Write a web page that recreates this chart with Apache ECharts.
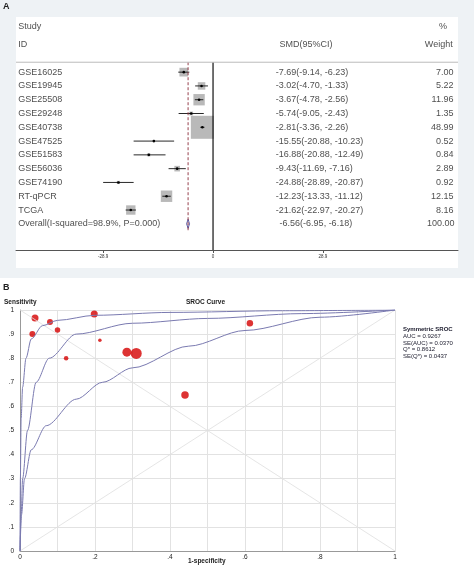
<!DOCTYPE html>
<html>
<head>
<meta charset="utf-8">
<script src="https://cdn.jsdelivr.net/npm/echarts@6/dist/echarts.min.js"></script>
<style>html,body{margin:0;padding:0;background:#fff}#chart{width:474px;height:565px}</style>
</head>
<body>
<div id="chart"></div>
<script>
// ---- panel A: forest plot data
var studies = ['GSE16025','GSE19945','GSE25508','GSE29248','GSE40738','GSE47525','GSE51583','GSE56036','GSE74190','RT-qPCR','TCGA'];
var smd = [-7.69,-3.02,-3.67,-5.74,-2.81,-15.55,-16.88,-9.43,-24.88,-12.23,-21.62];
var ciLow = [-9.14,-4.70,-4.78,-9.05,-3.36,-20.88,-20.88,-11.69,-28.89,-13.33,-22.97];
var ciHigh = [-6.23,-1.33,-2.56,-2.43,-2.26,-10.23,-12.49,-7.16,-20.87,-11.12,-20.27];
var weights = [7.00,5.22,11.96,1.35,48.99,0.52,0.84,2.89,0.92,12.15,8.16];
var overall = {est:-6.56, low:-6.95, high:-6.18, label:'Overall(I-squared=98.9%, P=0.000)'};
var forestTicks = [-28.9, 0, 28.9];

// ---- panel B: SROC data
var srocPoints = [ // [1-spec, sens, symbol size]
  [0.040,0.967,7],[0.033,0.900,6],[0.080,0.950,6],[0.100,0.917,5.5],[0.123,0.800,4.5],
  [0.198,0.983,7],[0.213,0.875,3.5],[0.285,0.825,9],[0.310,0.820,11],[0.440,0.647,7.5],[0.613,0.945,6.5]
];
var curveInner = [[0,0],[0.001,0.3],[0.003,0.55],[0.007,0.68],[0.016,0.80],[0.03,0.88],[0.06,0.935],[0.1,0.957],[0.2,0.978],[0.4,0.99],[0.7,0.997],[1,1]];
var curveMid = [[0,0],[0.003,0.15],[0.007,0.3],[0.02,0.5],[0.043,0.7],[0.078,0.8],[0.15,0.9],[0.3,0.945],[0.5,0.965],[0.75,0.985],[1,1]];
var curveOuter = [[0,0],[0.004,0.15],[0.012,0.3],[0.03,0.42],[0.07,0.52],[0.15,0.63],[0.22,0.7],[0.3,0.76],[0.45,0.85],[0.6,0.915],[0.8,0.97],[1,1]];
var srocStats = ['AUC = 0.9267','SE(AUC) = 0.0370','Q* = 0.8612','SE(Q*) = 0.0437'];

var font = 'Liberation Sans, Arial, sans-serif';
var rows = studies.map(function (s, i) { return i; });
var overallRow = studies.length;

function txtSeries(data, pos, size) {
  return {
    type: 'scatter', xAxisIndex: 0, yAxisIndex: 0, symbolSize: 0, silent: true, data: data,
    label: {show: true, position: pos, distance: 0, fontSize: size || 9, fontFamily: font, color: '#222',
      formatter: function (p) { return p.data[2]; }}
  };
}

var nameData = studies.map(function (s, i) { return [-51.2, i, s]; });
nameData.push([-51.2, overallRow, overall.label]);
nameData.push([-51.2, -3.3, 'Study'], [-51.2, -2.0, 'ID']);
var smdData = rows.map(function (i) {
  return [16.5, i, smd[i].toFixed(2) + '(' + ciLow[i].toFixed(2) + ', ' + ciHigh[i].toFixed(2) + ')'];
});
smdData.push([17.5, overallRow, overall.est.toFixed(2) + '(' + overall.low.toFixed(2) + ', ' + overall.high.toFixed(2) + ')']);
smdData.push([17.5, -2.0, 'SMD(95%CI)']);
var wData = weights.map(function (v, i) { return [63.2, i, v.toFixed(2)]; });
wData.push([63.5, overallRow, '100.00'], [63.0, -2.0, 'Weight'], [61.5, -3.3, '%']);

function curve(data) {
  return {type: 'line', xAxisIndex: 1, yAxisIndex: 1, symbol: 'none', smooth: 0.3, smoothMonotone: 'x', silent: true,
    data: data, lineStyle: {color: '#7a7ab0', width: 1}};
}

var option = {
  animation: false,
  textStyle: {fontFamily: font},
  graphic: [
    {type: 'rect', z: -10, shape: {x: 0, y: 0, width: 474, height: 278}, style: {fill: '#eef2f5'}},
    {type: 'rect', z: -9, shape: {x: 16, y: 17, width: 442, height: 251}, style: {fill: '#fff'}},
    {type: 'text', left: 3, top: 2, style: {text: 'A', font: 'bold 9px ' + font, fill: '#222'}},
    {type: 'text', left: 3, top: 283, style: {text: 'B', font: 'bold 9px ' + font, fill: '#222'}},
    {type: 'text', left: 4, top: 299, style: {text: 'Sensitivity', font: 'bold 6.5px ' + font, fill: '#222'}},
    {type: 'text', left: 186, top: 299, style: {text: 'SROC Curve', font: 'bold 6.5px ' + font, fill: '#222'}},
    {type: 'text', left: 188, top: 558, style: {text: '1-specificity', font: 'bold 6.5px ' + font, fill: '#222'}},
    {type: 'text', left: 403, top: 326, style: {
      text: '{b|Symmetric SROC}\n' + srocStats.join('\n'), font: '6px ' + font, lineHeight: 6.8, fill: '#223',
      rich: {b: {fontWeight: 'bold', fontSize: 6, fontFamily: font, lineHeight: 6.8}}}}
  ],
  grid: [
    {left: 16, top: 17, width: 442, height: 233},
    {left: 20, top: 310, width: 375, height: 241}
  ],
  xAxis: [
    {gridIndex: 0, type: 'value', min: -51.8, max: 64.4, splitLine: {show: false},
      axisLine: {onZero: false, lineStyle: {color: '#555', width: 1}},
      axisTick: {customValues: forestTicks, length: 3, lineStyle: {color: '#555'}},
      axisLabel: {customValues: forestTicks, fontSize: 4.5, color: '#333', margin: 4}},
    {gridIndex: 1, type: 'value', min: 0, max: 1, interval: 0.1,
      splitLine: {lineStyle: {color: '#e2e2e2'}},
      axisLine: {lineStyle: {color: '#999'}}, axisTick: {show: false},
      axisLabel: {fontSize: 6.5, color: '#222', margin: 3,
        formatter: function (v) { var r = Math.round(v * 10); return r % 2 ? '' : (r === 0 ? '0' : r === 10 ? '1' : '.' + r); }}}
  ],
  yAxis: [
    {gridIndex: 0, type: 'value', inverse: true, min: -4, max: 12.9, show: false},
    {gridIndex: 1, type: 'value', min: 0, max: 1, interval: 0.1,
      splitLine: {lineStyle: {color: '#e2e2e2'}},
      axisLine: {show: true, lineStyle: {color: '#999'}}, axisTick: {show: false},
      axisLabel: {fontSize: 6.5, color: '#222', margin: 6,
        formatter: function (v) { var r = Math.round(v * 10); return r === 0 ? '0' : r === 10 ? '1' : '.' + r; }}}
  ],
  series: [
    {type: 'line', xAxisIndex: 0, yAxisIndex: 0, symbol: 'none', silent: true,
      data: [[0, -0.72], [0, 12.9]], lineStyle: {color: '#111', width: 1.2}},
    {type: 'line', xAxisIndex: 0, yAxisIndex: 0, symbol: 'none', silent: true,
      data: [[overall.est, -0.72], [overall.est, 11.6]], lineStyle: {color: '#8b2b3a', width: 0.9, type: [3, 2]}},
    {type: 'line', xAxisIndex: 0, yAxisIndex: 0, symbol: 'none', silent: true,
      data: [[-51.8, -0.72], [64.4, -0.72]], lineStyle: {color: '#bbb', width: 1}},
    {type: 'custom', xAxisIndex: 0, yAxisIndex: 0, silent: true,
      data: rows.map(function (i) { return [smd[i], i, ciLow[i], ciHigh[i], weights[i]]; }),
      renderItem: function (params, api) {
        var c = api.coord([api.value(0), api.value(1)]);
        var lo = api.coord([api.value(2), api.value(1)]);
        var hi = api.coord([api.value(3), api.value(1)]);
        var s = 23 * Math.sqrt(api.value(4) / 48.99);
        return {type: 'group', children: [
          {type: 'rect', shape: {x: c[0] - s / 2, y: c[1] - s / 2, width: s, height: s}, style: {fill: '#b9b9b9'}},
          {type: 'line', shape: {x1: lo[0], y1: c[1], x2: hi[0], y2: c[1]}, style: {stroke: '#111', lineWidth: 0.9}},
          {type: 'circle', shape: {cx: c[0], cy: c[1], r: 1.3}, style: {fill: '#000'}}
        ]};
      }},
    {type: 'custom', xAxisIndex: 0, yAxisIndex: 0, silent: true,
      data: [[overall.est, overallRow, overall.low, overall.high]],
      renderItem: function (params, api) {
        var c = api.coord([api.value(0), api.value(1)]);
        var lo = api.coord([api.value(2), api.value(1)]);
        var hi = api.coord([api.value(3), api.value(1)]);
        return {type: 'polygon', shape: {points: [[lo[0], c[1]], [c[0], c[1] - 4.5], [hi[0], c[1]], [c[0], c[1] + 4.5]]},
          style: {fill: '#fff', stroke: '#4a4a9a', lineWidth: 0.9}};
      }},
    txtSeries(nameData, 'right', 9),
    txtSeries(smdData, 'right', 9),
    txtSeries(wData, 'left', 9),
    {type: 'line', xAxisIndex: 1, yAxisIndex: 1, symbol: 'none', silent: true, data: [[0, 0], [1, 1]], lineStyle: {color: '#dedede', width: 0.8}},
    {type: 'line', xAxisIndex: 1, yAxisIndex: 1, symbol: 'none', silent: true, data: [[0, 1], [1, 0]], lineStyle: {color: '#dedede', width: 0.8}},
    curve(curveInner), curve(curveMid), curve(curveOuter),
    {type: 'scatter', xAxisIndex: 1, yAxisIndex: 1, silent: true, data: srocPoints,
      symbolSize: function (d) { return d[2]; }, itemStyle: {color: '#d40000'}}
  ]
};
echarts.init(document.getElementById('chart')).setOption(option);
</script>
</body>
</html>
